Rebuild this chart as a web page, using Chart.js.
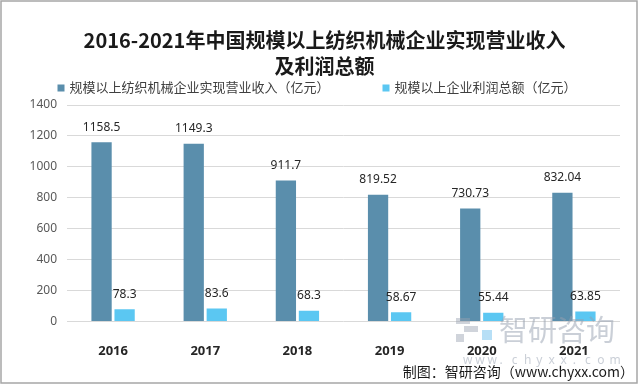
<!DOCTYPE html>
<html>
<head>
<meta charset="utf-8">
<script src="https://cdn.jsdelivr.net/npm/chart.js@4"></script>
<style>
  html, body { margin: 0; padding: 0; background: #fff; }
  #wrap { width: 640px; height: 385px; }
</style>
</head>
<body>
<div id="wrap"><canvas id="chart" width="640" height="385"></canvas></div>
<script>
var YEARS = ["2016", "2017", "2018", "2019", "2020", "2021"];
var REVENUE = [1158.5, 1149.3, 911.7, 819.52, 730.73, 832.04];
var PROFIT = [78.3, 83.6, 68.3, 58.67, 55.44, 63.85];
var SERIES_NAMES = ["规模以上纺织机械企业实现营业收入（亿元）", "规模以上企业利润总额（亿元）"];
var TITLE_LINES = ["2016-2021年中国规模以上纺织机械企业实现营业收入", "及利润总额"];
var SOURCE = "制图：智研咨询（www.chyxx.com）";

var CJK = "'Noto Sans CJK SC', 'Noto Sans', sans-serif";

// frame, legend, value labels, watermark and source line
var extras = {
    id: "extras",
    beforeDraw: function (chart) {
        var c = chart.ctx;
        c.save();
        c.fillStyle = "#fff";
        c.fillRect(0, 0, chart.width, chart.height);
        c.strokeStyle = "#a6a6a6";
        c.lineWidth = 1.5;
        c.strokeRect(1, 1, chart.width - 4, chart.height - 3);
        c.restore();
    },
    afterDatasetsDraw: function (chart) {
        var c = chart.ctx;
        c.save();
        // value labels
        c.font = "12px 'Noto Sans', sans-serif";
        c.fillStyle = "#262626";
        c.textAlign = "center";
        c.textBaseline = "middle";
        chart.data.datasets.forEach(function (ds, i) {
            chart.getDatasetMeta(i).data.forEach(function (bar, j) {
                c.fillText(String(ds.data[j]), bar.x, bar.y - 15);
            });
        });

        // legend
        c.font = "13px " + CJK;
        c.textAlign = "left";
        var gap = 53, box = 7, sp = 5;
        var widths = chart.data.datasets.map(function (ds) {
            return box + sp + c.measureText(ds.label).width;
        });
        var total = widths[0] + gap + widths[1];
        var x = 317 - total / 2, y = 87;
        chart.data.datasets.forEach(function (ds, i) {
            c.fillStyle = ds.backgroundColor;
            c.fillRect(x, y - box / 2 + 1, box, box);
            c.fillStyle = "#404040";
            c.fillText(ds.label, x + box + sp, y);
            x += widths[i] + gap;
        });

        // watermark
        c.fillStyle = "rgba(150,160,175,0.45)";
        c.fillRect(456, 318, 14, 6);
        c.fillRect(464, 326, 14, 6);
        c.fillRect(456, 334, 8, 8);
        c.fillStyle = "rgba(95,185,235,0.45)";
        c.fillRect(482, 330, 10, 10);
        c.fillStyle = "rgba(150,160,175,0.5)";
        c.font = "29px " + CJK;
        c.fillText("智研咨询", 499, 330);
        c.font = "12px 'Noto Sans', sans-serif";
        var w = "www.chyxx.com".split("");
        w.forEach(function (ch, k) { c.fillText(ch, 463 + k * 12.2, 361); });

        // source
        c.fillStyle = "#1a1a1a";
        c.font = "14px " + CJK;
        c.textAlign = "right";
        c.fillText(SOURCE, 634, 372);
        c.restore();
    }
};

var ctx = document.getElementById("chart").getContext("2d");
var myChart = new Chart(ctx, {
    type: "bar",
    data: {
        labels: YEARS,
        datasets: [
            {
                label: SERIES_NAMES[0],
                data: REVENUE,
                backgroundColor: "#5a8eac",
                categoryPercentage: 0.5,
                barPercentage: 0.88
            },
            {
                label: SERIES_NAMES[1],
                data: PROFIT,
                backgroundColor: "#5bc7f2",
                categoryPercentage: 0.5,
                barPercentage: 0.88
            }
        ]
    },
    options: {
        responsive: false,
        animation: false,
        layout: {
            padding: { left: 29, right: 20, bottom: 12, top: 0 }
        },
        plugins: {
            legend: { display: false },
            tooltip: { enabled: false },
            title: {
                display: true,
                text: TITLE_LINES,
                color: "#1a1a1a",
                font: { family: CJK, size: 20, weight: "bold", lineHeight: 1.3 },
                padding: { top: 27, bottom: 26 }
            }
        },
        scales: {
            x: {
                grid: { display: false },
                border: { display: false },
                ticks: {
                    color: "#262626",
                    font: { family: "'Noto Sans', sans-serif", size: 13, weight: "bold" },
                    padding: 14
                }
            },
            y: {
                min: 0,
                max: 1400,
                afterFit: function (scale) { scale.width = 38; },
                grid: { color: "#d9d9d9", drawTicks: false },
                border: { display: false },
                ticks: {
                    stepSize: 200,
                    color: "#595959",
                    font: { family: "'Noto Sans', sans-serif", size: 12 },
                    padding: 10,
                    callback: function (v) { return String(v); }
                }
            }
        }
    },
    plugins: [extras]
});
</script>
</body>
</html>
